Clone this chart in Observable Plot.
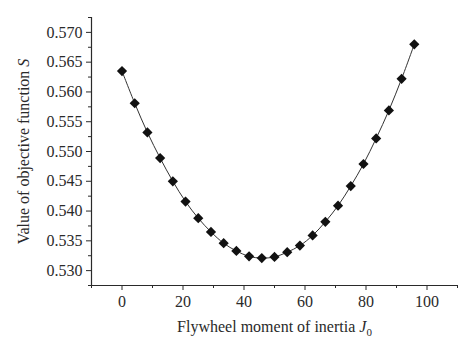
<!DOCTYPE html>
<html>
<head>
<meta charset="utf-8">
<script src="https://cdn.jsdelivr.net/npm/d3@7"></script>
<script src="https://cdn.jsdelivr.net/npm/@observablehq/plot@0.6"></script>
<style>
  html, body { margin: 0; padding: 0; background: #fff; }
</style>
</head>
<body>
<div id="chart"></div>
<script>
const inertia = [0, 4.17, 8.33, 12.5, 16.67, 20.83, 25, 29.17, 33.33, 37.5, 41.67, 45.83,
                 50, 54.17, 58.33, 62.5, 66.67, 70.83, 75, 79.17, 83.33, 87.5, 91.67, 95.83];
const objective = [0.5635, 0.5581, 0.5532, 0.5489, 0.5450, 0.5416, 0.5388, 0.5365, 0.5346, 0.5333, 0.5324, 0.5321,
                   0.5323, 0.5331, 0.5342, 0.5359, 0.5382, 0.5409, 0.5442, 0.5479, 0.5522, 0.5569, 0.5622, 0.5680];
const xTicks = [0, 20, 40, 60, 80, 100];
const xMinor = [-10, 10, 30, 50, 70, 90, 110];
const yTicks = [0.530, 0.535, 0.540, 0.545, 0.550, 0.555, 0.560, 0.565, 0.570];
const yMinor = [0.5275, 0.5325, 0.5375, 0.5425, 0.5475, 0.5525, 0.5575, 0.5625, 0.5675, 0.5725];

const data = inertia.map((x, i) => ({x, y: objective[i]}));
const ink = "#2a2a2a";

const chart = Plot.plot({
  width: 474,
  height: 353,
  marginLeft: 91,
  marginRight: 17,
  marginTop: 17,
  marginBottom: 68,
  style: {fontFamily: "'Liberation Serif', 'DejaVu Serif', serif", fontSize: "16px", color: ink, background: "#fff"},
  x: {domain: [-10, 110]},
  y: {domain: [0.5275, 0.5725]},
  marks: [
    Plot.axisX(xTicks, {tickSize: 5, tickPadding: 5, label: "Flywheel moment of inertia J0", labelAnchor: "center", labelArrow: "none", labelOffset: 46, fontSize: 16}),
    Plot.axisX(xMinor, {tickSize: 3, tickFormat: () => "", label: null}),
    Plot.axisY(yTicks, {tickSize: 5, tickPadding: 4, tickFormat: d3.format(".3f"), label: "Value of objective function S", labelAnchor: "center", labelArrow: "none", labelOffset: 74, fontSize: 16}),
    Plot.axisY(yMinor, {tickSize: 3, tickFormat: () => "", label: null}),
    Plot.ruleX([-10], {stroke: ink, strokeWidth: 1.2}),
    Plot.ruleY([0.5275], {stroke: ink, strokeWidth: 1.2}),
    Plot.line(data, {x: "x", y: "y", curve: "catmull-rom", stroke: "#333", strokeWidth: 1}),
    Plot.dot(data, {x: "x", y: "y", symbol: "diamond2", r: 4.6, fill: "#111", stroke: "none"})
  ]
});
document.getElementById("chart").appendChild(chart);

// italic/subscript styling of the axis labels
const svg = d3.select(chart);
svg.selectAll('g[aria-label="x-axis label"] text').each(function() {
  const t = d3.select(this);
  t.text(null);
  t.append("tspan").text("Flywheel moment of inertia ");
  t.append("tspan").attr("font-style", "italic").text("J");
  t.append("tspan").attr("font-size", "11px").attr("dy", "4").text("0");
});
svg.selectAll('g[aria-label="y-axis label"] text').each(function() {
  const t = d3.select(this);
  t.text(null);
  t.append("tspan").text("Value of objective function ");
  t.append("tspan").attr("font-style", "italic").text("S");
});
</script>
</body>
</html>
